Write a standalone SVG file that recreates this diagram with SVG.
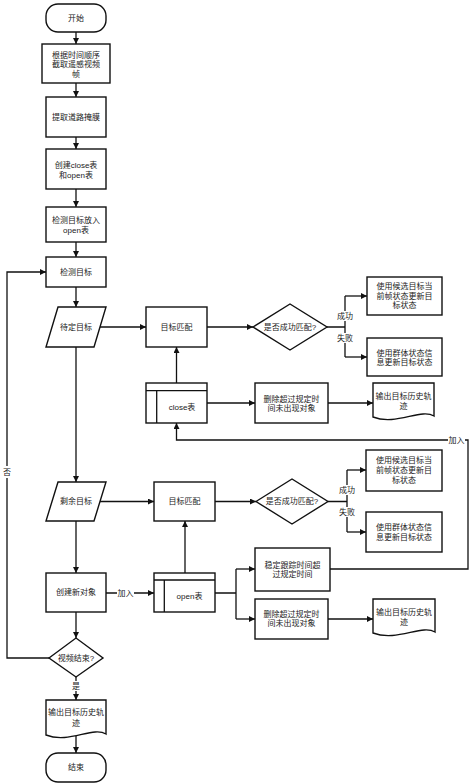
<svg xmlns="http://www.w3.org/2000/svg" width="474" height="784" viewBox="0 0 474 784">
<style>
.n{fill:#fff;stroke:#111;stroke-width:1.4}
.c{fill:none;stroke:#111;stroke-width:1.3}
.t{font-family:"Liberation Sans","Noto Sans CJK SC",sans-serif;font-size:8px;fill:#222;text-anchor:middle;dominant-baseline:central}
.bg{fill:#fff}
</style>
<defs>
<marker id="a" viewBox="0 0 10 10" refX="10" refY="5" markerWidth="7" markerHeight="6" markerUnits="userSpaceOnUse" orient="auto">
<path d="M0,0 L10,5 L0,10 z" fill="#111"/>
</marker>
</defs>
<rect width="474" height="784" fill="#fff"/>
<g id="connectors">
<path class="c" marker-end="url(#a)" d="M76,32 V44"/>
<path class="c" marker-end="url(#a)" d="M76,83 V97"/>
<path class="c" marker-end="url(#a)" d="M76,137 V149"/>
<path class="c" marker-end="url(#a)" d="M76,189 V207"/>
<path class="c" marker-end="url(#a)" d="M76,242 V257"/>
<path class="c" marker-end="url(#a)" d="M76,287 V307"/>
<path class="c" marker-end="url(#a)" d="M100,327 H146"/>
<path class="c" marker-end="url(#a)" d="M207,327 H253"/>
<path class="c" d="M327,327 H345 M345,296 V357"/>
<path class="c" marker-end="url(#a)" d="M345,296 H367"/>
<path class="c" marker-end="url(#a)" d="M345,357 H367"/>
<path class="c" marker-end="url(#a)" d="M176.5,383 V347"/>
<path class="c" marker-end="url(#a)" d="M207,403 H255"/>
<path class="c" marker-end="url(#a)" d="M328,403 H373"/>
<path class="c" marker-end="url(#a)" d="M330,569 H468 V440 H176.5 V423"/>
<path class="c" marker-end="url(#a)" d="M76,347 V482"/>
<path class="c" marker-end="url(#a)" d="M100,501.5 H154"/>
<path class="c" marker-end="url(#a)" d="M215,501.5 H256"/>
<path class="c" d="M328,501.5 H347 M347,470 V532"/>
<path class="c" marker-end="url(#a)" d="M347,470 H366"/>
<path class="c" marker-end="url(#a)" d="M347,532 H366"/>
<path class="c" marker-end="url(#a)" d="M185,573 V521"/>
<path class="c" marker-end="url(#a)" d="M76,521 V573"/>
<path class="c" marker-end="url(#a)" d="M106,593 H154"/>
<path class="c" d="M215,593 H236 M236,569 V619"/>
<path class="c" marker-end="url(#a)" d="M236,569 H255"/>
<path class="c" marker-end="url(#a)" d="M236,619 H255"/>
<path class="c" marker-end="url(#a)" d="M328,619 H373"/>
<path class="c" marker-end="url(#a)" d="M76,612 V638"/>
<path class="c" marker-end="url(#a)" d="M49,658 H7 V272 H46"/>
<path class="c" marker-end="url(#a)" d="M76,677 V700"/>
<path class="c" marker-end="url(#a)" d="M76,735 V753"/>
<rect class="bg" x="338" y="311" width="14" height="10"/><text class="t" x="345" y="316">成功</text>
<rect class="bg" x="338" y="333" width="14" height="10"/><text class="t" x="345" y="338">失败</text>
<rect class="bg" x="340" y="485" width="14" height="10"/><text class="t" x="347" y="490">成功</text>
<rect class="bg" x="340" y="507" width="14" height="10"/><text class="t" x="347" y="512">失败</text>
<rect class="bg" x="448" y="435" width="17" height="10"/><text class="t" x="456.5" y="440">加入</text>
<rect class="bg" x="117" y="588" width="17" height="10"/><text class="t" x="125.5" y="593">加入</text>
<rect class="bg" x="2" y="466" width="10" height="12"/><text class="t" x="7" y="472">否</text>
<rect class="bg" x="71" y="681" width="10" height="10"/><text class="t" x="76" y="686">是</text>
</g>
<g id="start"><rect class="n" x="46" y="4" width="60" height="28" rx="12"/><text class="t" x="76" y="18">开始</text></g>
<g id="n2"><rect class="n" x="42" y="44" width="68" height="39"/><text class="t" x="76" y="55">根据时间顺序</text><text class="t" x="76" y="64.5">截取遥感视频</text><text class="t" x="76" y="74">帧</text></g>
<g id="n3"><rect class="n" x="46" y="97" width="60" height="40"/><text class="t" x="76" y="117">提取道路掩膜</text></g>
<g id="n4"><rect class="n" x="46" y="149" width="60" height="40"/><text class="t" x="76" y="165">创建close表</text><text class="t" x="76" y="175">和open表</text></g>
<g id="n5"><rect class="n" x="46" y="207" width="60" height="35"/><text class="t" x="76" y="220">检测目标放入</text><text class="t" x="76" y="230">open表</text></g>
<g id="n6"><rect class="n" x="46" y="257" width="60" height="30"/><text class="t" x="76" y="272">检测目标</text></g>
<g id="pending"><polygon class="n" points="58,307 106,307 94,347 46,347"/><text class="t" x="76" y="327">待定目标</text></g>
<g id="match1"><rect class="n" x="146" y="307" width="61" height="40"/><text class="t" x="176.5" y="327">目标匹配</text></g>
<g id="dec1"><polygon class="n" points="253,327 290,304 327,327 290,350"/><text class="t" x="290" y="327">是否成功匹配?</text></g>
<g id="upd1"><rect class="n" x="367" y="277" width="75" height="38"/><text class="t" x="404.5" y="286.5">使用候选目标当</text><text class="t" x="404.5" y="296">前帧状态更新目</text><text class="t" x="404.5" y="305.5">标状态</text></g>
<g id="grp1"><rect class="n" x="367" y="338" width="75" height="38"/><text class="t" x="404.5" y="353">使用群体状态信</text><text class="t" x="404.5" y="362.5">息更新目标状态</text></g>
<g id="close"><rect class="n" x="146" y="383" width="61" height="40"/><path class="c" d="M146,390.7 H207 M156.7,390.7 V423"/><text class="t" x="182" y="407">close表</text></g>
<g id="del1"><rect class="n" x="255" y="383" width="73" height="40"/><text class="t" x="291.5" y="399">删除超过规定时</text><text class="t" x="291.5" y="408">间未出现对象</text></g>
<g id="doc1"><path class="n" d="M373,383 H434 V416 C421,408 396,426 373,417 Z"/><text class="t" x="403.5" y="396">输出目标历史轨</text><text class="t" x="403.5" y="406">迹</text></g>
<g id="remain"><polygon class="n" points="58,482 106,482 94,521 46,521"/><text class="t" x="76" y="501.5">剩余目标</text></g>
<g id="match2"><rect class="n" x="154" y="482" width="61" height="39"/><text class="t" x="184.5" y="501.5">目标匹配</text></g>
<g id="dec2"><polygon class="n" points="256,501.5 292,479 328,501.5 292,524"/><text class="t" x="292" y="501.5">是否成功匹配?</text></g>
<g id="upd2"><rect class="n" x="366" y="450" width="76" height="41"/><text class="t" x="404" y="460.5">使用候选目标当</text><text class="t" x="404" y="470.5">前帧状态更新目</text><text class="t" x="404" y="480.5">标状态</text></g>
<g id="grp2"><rect class="n" x="366" y="512" width="76" height="40"/><text class="t" x="404" y="527.5">使用群体状态信</text><text class="t" x="404" y="537">息更新目标状态</text></g>
<g id="newobj"><rect class="n" x="46" y="573" width="60" height="39"/><text class="t" x="76" y="592.5">创建新对象</text></g>
<g id="open"><rect class="n" x="154" y="573" width="61" height="39"/><path class="c" d="M154,580 H215 M164.3,580 V612"/><text class="t" x="189.5" y="596.5">open表</text></g>
<g id="stable"><rect class="n" x="255" y="548" width="75" height="43"/><text class="t" x="292.5" y="565">稳定跟踪时间超</text><text class="t" x="292.5" y="574.5">过规定时间</text></g>
<g id="del2"><rect class="n" x="255" y="599" width="73" height="40"/><text class="t" x="291.5" y="614">删除超过规定时</text><text class="t" x="291.5" y="623">间未出现对象</text></g>
<g id="doc2"><path class="n" d="M373,599 H435 V632 C422,624 397,642 373,633 Z"/><text class="t" x="404" y="612">输出目标历史轨</text><text class="t" x="404" y="622">迹</text></g>
<g id="dec3"><polygon class="n" points="49,658 76,638 103,658 76,677"/><text class="t" x="76" y="658">视频结束?</text></g>
<g id="doc3"><path class="n" d="M46,700 H106 V734 C93,726 69,744 46,735 Z"/><text class="t" x="76" y="712">输出目标历史轨</text><text class="t" x="76" y="723">迹</text></g>
<g id="end"><rect class="n" x="46" y="753" width="60" height="29" rx="12"/><text class="t" x="76" y="767.5">结束</text></g>
</svg>
